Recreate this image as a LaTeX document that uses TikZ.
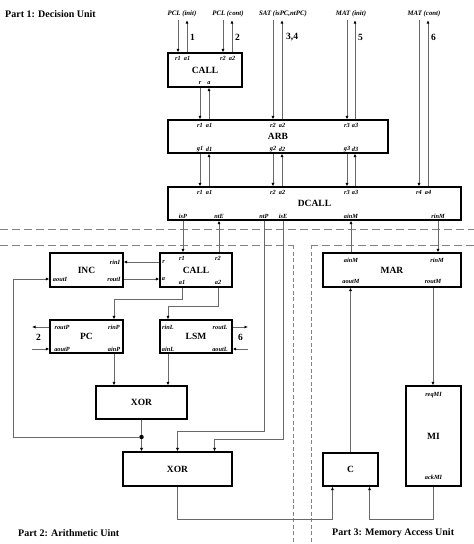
\documentclass[tikz,border=0pt]{standalone}
\usepackage{fontspec}
\setmainfont{Liberation Serif}
\usepackage{tikz}
\usetikzlibrary{arrows.meta}
\usepackage{xcolor}
\definecolor{ColLine}{RGB}{105,105,105}
\definecolor{ColDash}{RGB}{130,130,130}
\tikzstyle{Box}=[draw=black,line width=1.1pt,inner sep=0pt,font=\fontsize{9.5}{10}\selectfont\bfseries]
\tikzstyle{Port}=[inner sep=0.5pt,font=\fontsize{6.3}{7}\selectfont\bfseries\itshape]
\tikzstyle{Input}=[inner sep=1pt,outer sep=2pt,font=\fontsize{6.8}{7}\selectfont\bfseries\itshape]
\tikzstyle{Num}=[inner sep=0pt,anchor=west,font=\fontsize{9.5}{10}\selectfont\bfseries]
\tikzstyle{Title}=[inner sep=0pt,anchor=west,font=\fontsize{10}{11}\selectfont\bfseries]
\tikzstyle{Sig}=[ColLine,line width=0.75pt,-{Latex[length=3.5pt,width=3pt,color=black]}]
\tikzstyle{Wire}=[ColLine,line width=0.75pt]
\tikzstyle{Dot}=[circle,fill=black,inner sep=0pt,minimum size=4.5pt]
\tikzstyle{PartH}=[ColDash,line width=1pt,dash pattern=on 8pt off 4pt]
\tikzstyle{PartV}=[ColDash,line width=1pt,dash pattern=on 4pt off 2.5pt]

\begin{document}
\begin{tikzpicture}[x=1pt,y=-1pt]
        \useasboundingbox(0,0)rectangle(474,544);
        % frames of the three parts
        \draw[PartH](0,229.5)--(474,229.5);
        \draw[PartH](0,245)--(293,245);
        \draw[PartV](293,245)--(293,544);
        \draw[PartH](474,245)--(311,245);
        \draw[PartV](311,245)--(311,544);
        \node[Title](p1)at(5,14){Part 1: Decision Unit};
        \node[Title](p2)at(18,533){Part 2: Arithmetic Uint};
        \node[Title](p3)at(332,533){Part 3: Memory Access Unit};
        % inputs
        \node[Input](tPCLi)at(182,14){PCL (init)};
        \node[Input](tPCLc)at(228,14){PCL (cont)};
        \node[Input](tSAT)at(283,14){SAT (isPC,ntPC)};
        \node[Input](tMATi)at(351,14){MAT (init)};
        \node[Input](tMATc)at(424,14){MAT (cont)};
        \node[Num](n1)at(190,37){1};
        \node[Num](n2)at(235,37){2};
        \node[Num](n34)at(286,37){3,4};
        \node[Num](n5)at(358,37){5};
        \node[Num](n6)at(431,37){6};
        % boxes
        \node[Box,minimum width=74pt,minimum height=34pt](callA)at(205,70){CALL};
        \node[Box,minimum width=220pt,minimum height=33pt](arb)at(278,136.5){ARB};
        \node[Box,minimum width=293pt,minimum height=33pt](dcall)at(314.5,203.5){DCALL};
        \node[Box,minimum width=73pt,minimum height=34pt](inc)at(86.5,270){INC};
        \node[Box,minimum width=72pt,minimum height=34pt](callB)at(196,270){CALL};
        \node[Box,minimum width=73pt,minimum height=33pt](pc)at(86.5,336.5){PC};
        \node[Box,minimum width=72pt,minimum height=33pt](lsm)at(196,336.5){LSM};
        \node[Box,minimum width=91pt,minimum height=33pt](xorA)at(141.5,402.5){XOR};
        \node[Box,minimum width=109pt,minimum height=34pt](xorB)at(177.5,469){XOR};
        \node[Box,minimum width=138pt,minimum height=34pt](mar)at(392,270){MAR};
        \node[Box,minimum width=55pt,minimum height=33pt](c)at(350.5,469.5){C};
        \node[Box,minimum width=55pt,minimum height=100pt](mi)at(433.5,436){MI};
        % ports
        \node[Port](ca-r1)at(178,58){r1};
        \node[Port](ca-a1)at(187,58){a1};
        \node[Port](ca-r2)at(223,58){r2};
        \node[Port](ca-a2)at(232,58){a2};
        \node[Port](ca-r)at(200,83){r};
        \node[Port](ca-a)at(209,83){a};
        \node[Port](ar-r1)at(200,125){r1};
        \node[Port](ar-a1)at(209,125){a1};
        \node[Port](ar-r2)at(273,125){r2};
        \node[Port](ar-a2)at(282,125){a2};
        \node[Port](ar-r3)at(347,125){r3};
        \node[Port](ar-a3)at(355,125){a3};
        \node[Port](ar-g1)at(200,149){g1};
        \node[Port](ar-d1)at(209,149){d1};
        \node[Port](ar-g2)at(273,149){g2};
        \node[Port](ar-d2)at(282,149){d2};
        \node[Port](ar-g3)at(347,149){g3};
        \node[Port](ar-d3)at(355,149){d3};
        \node[Port](dc-r1)at(200,192){r1};
        \node[Port](dc-a1)at(209,192){a1};
        \node[Port](dc-r2)at(273,192){r2};
        \node[Port](dc-a2)at(282,192){a2};
        \node[Port](dc-r3)at(347,192){r3};
        \node[Port](dc-a3)at(355,192){a3};
        \node[Port](dc-r4)at(419,192){r4};
        \node[Port](dc-a4)at(428,192){a4};
        \node[Port](dc-isP)at(183,216){isP};
        \node[Port](dc-ntE)at(219,216){ntE};
        \node[Port](dc-ntP)at(264,216){ntP};
        \node[Port](dc-isE)at(283,216){isE};
        \node[Port](dc-ainM)at(351,216){ainM};
        \node[Port](dc-rinM)at(438,216){rinM};
        \node[Port](in-rinI)at(115,262){rinI};
        \node[Port](in-aoutI)at(60,279){aoutI};
        \node[Port](in-routI)at(114,279){routI};
        \node[Port](cb-r)at(163.5,262){r};
        \node[Port](cb-a)at(163.5,279){a};
        \node[Port](cb-r1)at(182,258){r1};
        \node[Port](cb-r2)at(218,258){r2};
        \node[Port](cb-a1)at(182,282){a1};
        \node[Port](cb-a2)at(218,282){a2};
        \node[Port](pc-routP)at(62,327){routP};
        \node[Port](pc-rinP)at(114,327){rinP};
        \node[Port](pc-aoutP)at(62,349){aoutP};
        \node[Port](pc-ainP)at(114,349){ainP};
        \node[Port](lsm-rinL)at(168,327){rinL};
        \node[Port](lsm-routL)at(220,327){routL};
        \node[Port](lsm-ainL)at(168,349){ainL};
        \node[Port](lsm-aoutL)at(220,349){aoutL};
        \node[Port](mr-ainM)at(351,260){ainM};
        \node[Port](mr-rinM)at(437,260){rinM};
        \node[Port](mr-aoutM)at(351,281){aoutM};
        \node[Port](mr-routM)at(433,281){routM};
        \node[Port](mi-req)at(433.5,395){reqMI};
        \node[Port](mi-ack)at(433.5,477){ackMI};
        \node[Num](n2b)at(36,337){2};
        \node[Num](n6b)at(238,337){6};
        \coordinate(pOut)at(32,327);
        \coordinate(pIn)at(32,349);
        \coordinate(lOut)at(248,327);
        \coordinate(lIn)at(248,349);
        \coordinate(fb)at(13,437);
        \node[Dot](jn)at(xorA.south |- fb){};
        % decision unit
        \draw[Sig](tPCLi.south -| ca-r1)--(callA.north -| ca-r1);
        \draw[Sig](callA.north -| ca-a1)--(tPCLi.south -| ca-a1);
        \draw[Sig](tPCLc.south -| ca-r2)--(callA.north -| ca-r2);
        \draw[Sig](callA.north -| ca-a2)--(tPCLc.south -| ca-a2);
        \draw[Sig](tSAT.south -| ar-r2)--(arb.north -| ar-r2);
        \draw[Sig](arb.north -| ar-a2)--(tSAT.south -| ar-a2);
        \draw[Sig](tMATi.south -| ar-r3)--(arb.north -| ar-r3);
        \draw[Sig](arb.north -| ar-a3)--(tMATi.south -| ar-a3);
        \draw[Sig](tMATc.south -| dc-r4)--(dcall.north -| dc-r4);
        \draw[Sig](dcall.north -| dc-a4)--(tMATc.south -| dc-a4);
        \draw[Sig](callA.south -| ca-r)--(arb.north -| ca-r);
        \draw[Sig](arb.north -| ca-a)--(callA.south -| ca-a);
        \foreach \i in {1,2,3}{
            \draw[Sig](arb.south -| ar-g\i)--(dcall.north -| ar-g\i);
            \draw[Sig](dcall.north -| ar-d\i)--(arb.south -| ar-d\i);
        }
        % arithmetic unit
        \draw[Sig](dcall.south -| dc-isP)--(callB.north -| dc-isP);
        \draw[Sig](callB.north -| dc-ntE)--(dcall.south -| dc-ntE);
        \draw[Sig](dcall.south -| dc-ntP)|-([yshift=20pt]xorB.north)--(xorB.north);
        \draw[Sig](dcall.south -| dc-isE)|-([xshift=-18pt,yshift=12pt]xorB.north east)--([xshift=-18pt]xorB.north east);
        \draw[Sig](callB.west |- cb-r)--(inc.east |- cb-r);
        \draw[Sig](inc.east |- in-routI)--(callB.west |- in-routI);
        \draw[Sig](callB.south -| cb-a1)|-([yshift=20pt]pc.north -| pc-rinP)--(pc.north -| pc-rinP);
        \draw[Sig](callB.south -| cb-a2)|-([yshift=13pt]lsm.north -| lsm-rinL)--(lsm.north -| lsm-rinL);
        \draw[Sig](pc.west |- pc-routP)--(pOut);
        \draw[Sig](pIn)--(pc.west |- pc-aoutP);
        \draw[Sig](lsm.east |- lsm-routL)--(lOut);
        \draw[Sig](lIn)--(lsm.east |- lsm-aoutL);
        \draw[Sig](pc.south -| pc-ainP)--(xorA.north -| pc-ainP);
        \draw[Sig](lsm.south -| lsm-ainL)--(xorA.north -| lsm-ainL);
        \draw[Wire](xorA.south)--(jn);
        \draw[Sig](jn)--(xorB.north -| jn);
        \draw[Sig](jn)--(fb)|-(inc.west |- in-aoutI);
        \draw[Sig](xorB.south)|-([xshift=10pt,yshift=-33pt]c.south west)--([xshift=10pt]c.south west);
        % memory access unit
        \draw[Sig](mar.north -| dc-ainM)--(dcall.south -| dc-ainM);
        \draw[Sig](dcall.south -| dc-rinM)--(mar.north -| dc-rinM);
        \draw[Sig](c.north)--(mar.south -| c.north);
        \draw[Sig](mar.south -| mr-routM)--(mi.north -| mr-routM);
        \draw[Sig](mi.south)|-([xshift=-9pt,yshift=-33pt]c.south east)--([xshift=-9pt]c.south east);
\end{tikzpicture}
\end{document}
